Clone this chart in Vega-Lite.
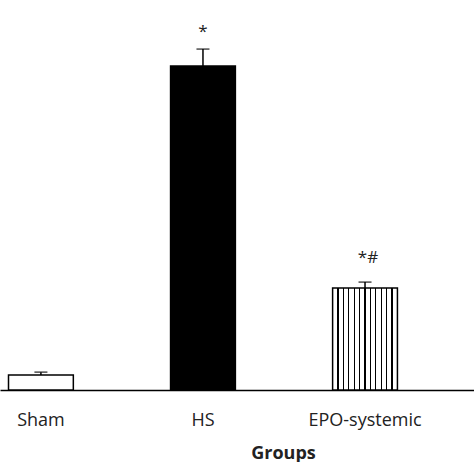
{
  "$schema": "https://vega.github.io/schema/vega-lite/v6.json",
  "width": 474,
  "height": 390,
  "padding": 0,
  "background": "white",
  "config": {"view": {"stroke": null}},
  "data": {
    "values": [
      {"group": "Sham", "mean": 4.6, "upper": 5.5, "sig": ""},
      {"group": "HS", "mean": 99.7, "upper": 104.9, "sig": "*"},
      {"group": "EPO-systemic", "mean": 31.4, "upper": 33.2, "sig": "*#"}
    ]
  },
  "encoding": {
    "x": {
      "field": "group",
      "type": "nominal",
      "sort": null,
      "scale": {"paddingInner": 0.6, "paddingOuter": 0.2625, "align": 0.1},
      "axis": {
        "title": "Groups",
        "labelAngle": 0,
        "ticks": false,
        "domainColor": "black",
        "domainWidth": 1.5,
        "labelFont": "Open Sans",
        "labelFontSize": 18,
        "labelColor": "#222",
        "labelPadding": 21,
        "titleFont": "Open Sans",
        "titleFontSize": 18,
        "titleFontWeight": "bold",
        "titleColor": "#222",
        "titlePadding": 15,
        "titleX": 283,
        "titleAnchor": "start",
        "titleAlign": "center"
      }
    }
  },
  "layer": [
    {
      "mark": {"type": "bar", "stroke": "black", "strokeWidth": 1.5},
      "encoding": {
        "y": {"field": "mean", "type": "quantitative", "scale": {"domain": [0, 120], "nice": false}, "axis": null},
        "fill": {
          "condition": [
            {"test": "datum.group === 'HS'", "value": "black"},
            {
              "test": "datum.group === 'EPO-systemic'",
              "value": {
                "gradient": "linear", "x1": 0, "x2": 1, "y1": 0, "y2": 0,
                "stops": [
                  {"offset": 0, "color": "white"},
                  {"offset": 0.073, "color": "white"}, {"offset": 0.073, "color": "black"}, {"offset": 0.093, "color": "black"}, {"offset": 0.093, "color": "white"},
                  {"offset": 0.157, "color": "white"}, {"offset": 0.157, "color": "black"}, {"offset": 0.177, "color": "black"}, {"offset": 0.177, "color": "white"},
                  {"offset": 0.24, "color": "white"}, {"offset": 0.24, "color": "black"}, {"offset": 0.26, "color": "black"}, {"offset": 0.26, "color": "white"},
                  {"offset": 0.323, "color": "white"}, {"offset": 0.323, "color": "black"}, {"offset": 0.343, "color": "black"}, {"offset": 0.343, "color": "white"},
                  {"offset": 0.407, "color": "white"}, {"offset": 0.407, "color": "black"}, {"offset": 0.427, "color": "black"}, {"offset": 0.427, "color": "white"},
                  {"offset": 0.49, "color": "white"}, {"offset": 0.49, "color": "black"}, {"offset": 0.51, "color": "black"}, {"offset": 0.51, "color": "white"},
                  {"offset": 0.573, "color": "white"}, {"offset": 0.573, "color": "black"}, {"offset": 0.593, "color": "black"}, {"offset": 0.593, "color": "white"},
                  {"offset": 0.657, "color": "white"}, {"offset": 0.657, "color": "black"}, {"offset": 0.677, "color": "black"}, {"offset": 0.677, "color": "white"},
                  {"offset": 0.74, "color": "white"}, {"offset": 0.74, "color": "black"}, {"offset": 0.76, "color": "black"}, {"offset": 0.76, "color": "white"},
                  {"offset": 0.823, "color": "white"}, {"offset": 0.823, "color": "black"}, {"offset": 0.843, "color": "black"}, {"offset": 0.843, "color": "white"},
                  {"offset": 0.907, "color": "white"}, {"offset": 0.907, "color": "black"}, {"offset": 0.927, "color": "black"}, {"offset": 0.927, "color": "white"},
                  {"offset": 1, "color": "white"}
                ]
              }
            }
          ],
          "value": "white"
        }
      }
    },
    {
      "mark": {"type": "rule", "color": "black", "strokeWidth": 1.5},
      "encoding": {
        "y": {"field": "mean", "type": "quantitative"},
        "y2": {"field": "upper"}
      }
    },
    {
      "mark": {"type": "tick", "color": "black", "size": 13, "thickness": 1.5},
      "encoding": {
        "y": {"field": "upper", "type": "quantitative"}
      }
    },
    {
      "transform": [{"filter": "datum.group === 'HS'"}],
      "mark": {"type": "text", "font": "Open Sans", "fontSize": 17, "baseline": "alphabetic", "dy": -12, "color": "#222"},
      "encoding": {
        "y": {"field": "upper", "type": "quantitative"},
        "text": {"field": "sig"}
      }
    },
    {
      "transform": [{"filter": "datum.group === 'EPO-systemic'"}],
      "mark": {"type": "text", "font": "Open Sans", "fontSize": 17, "baseline": "alphabetic", "dy": -19, "dx": 3, "color": "#222"},
      "encoding": {
        "y": {"field": "upper", "type": "quantitative"},
        "text": {"field": "sig"}
      }
    }
  ]
}
